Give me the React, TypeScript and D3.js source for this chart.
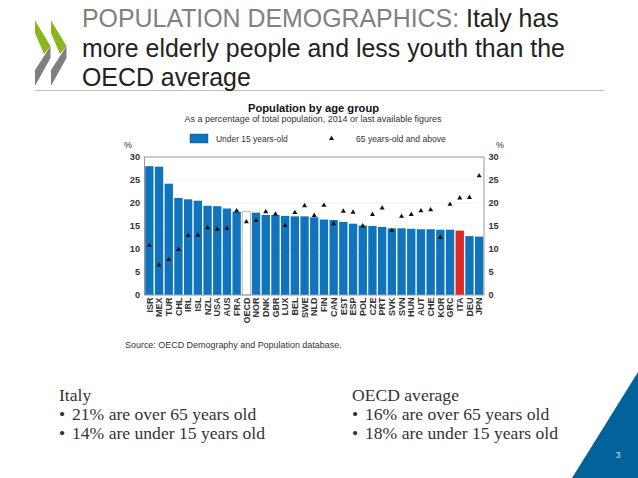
import React, { useEffect } from "react";
import * as d3 from "d3";

const countries = ["ISR","MEX","TUR","CHL","IRL","ISL","NZL","USA","AUS","FRA","OECD","NOR","DNK","GBR","LUX","BEL","SWE","NLD","FIN","CAN","EST","ESP","POL","CZE","PRT","SVK","SVN","HUN","AUT","CHE","KOR","GRC","ITA","DEU","JPN"];
const under15 = [28,27.9,24.2,21.1,20.8,20.5,19.4,19.3,18.8,18.1,18.1,17.9,17.4,17.4,17.2,17.1,17.1,16.9,16.4,16.3,15.9,15.5,15.1,15,14.8,14.5,14.5,14.4,14.3,14.3,14.2,14.2,14,12.8,12.7];
const over65 = [10.8,6.5,7.7,9.9,12.9,13,14.6,14.3,14.5,18.3,15.9,16.2,18.1,17.6,15.1,17.9,19.4,17.3,19.5,15.5,18.2,18,15,17.5,18.9,14,17.1,17.5,18.3,18.5,12.5,19.7,21.1,21.2,25.9];
const yTicks = [0,5,10,15,20,25,30];
const italyHeading = "Italy";
const italyBullets = ["21% are over 65 years old","14% are under 15 years old"];
const oecdHeading = "OECD average";
const oecdBullets = ["16% are over 65 years old","18% are under 15 years old"];

const sans = "'Liberation Sans', Arial, sans-serif";
const serif = "'Liberation Serif', serif";

function Block({ left, heading, bullets }: { left: number; heading: string; bullets: string[] }) {
  return (
    <g fontFamily={serif} fontSize={17.6} fill="#333">
      <text x={left} y={400.5}>{heading}</text>
      {bullets.map((l, i) => (
        <g key={l}>
          <text x={left} y={420 + i * 18.5}>•</text>
          <text x={left + 13} y={420 + i * 18.5}>{l}</text>
        </g>
      ))}
    </g>
  );
}

export default function App() {
  useEffect(() => { document.body.style.margin = "0"; }, []);
  const x = d3.scaleBand<string>().domain(countries).range([144.5, 484]).paddingInner(0.14).paddingOuter(0.07);
  const y = d3.scaleLinear().domain([0, 30]).range([295, 157]);
  const tri = d3.symbol().type(d3.symbolTriangle).size(11)() as string;
  const barFill = (c: string) => (c === "OECD" ? "#ffffff" : c === "ITA" ? "#df2a2a" : "#0f74bc");
  return (
    <svg width={638} height={478} style={{ display: "block", position: "absolute", left: 0, top: 0 }}>
      <rect width={638} height={478} fill="#fff" />
      {/* logo */}
      <path d="M35,20.5 L50.5,46 L44,54 L35,33Z" fill="#8ab51d" />
      <path d="M51,20.5 L66.5,46 L60,54 L51,33Z" fill="#8ab51d" />
      <path d="M50.5,46 L50.5,58 L35,86 L35,70Z" fill="#808080" />
      <path d="M66.5,46 L66.5,58 L51,86 L51,70Z" fill="#808080" />
      <line x1={35} x2={604} y1={90.5} y2={90.5} stroke="#bbbbbb" />
      {/* title */}
      <g fontFamily={sans} fontSize={24.9}>
        <text x={82} y={27} fill="#808080">POPULATION DEMOGRAPHICS: <tspan fill="#222">Italy has</tspan></text>
        <text x={82} y={56.5} fill="#222">more elderly people and less youth than the</text>
        <text x={82} y={86} fill="#222">OECD average</text>
      </g>
      {/* chart headings */}
      <text x={313.5} y={112} textAnchor="middle" fontFamily={sans} fontSize={11.2} fontWeight="bold" fill="#111">Population by age group</text>
      <text x={313} y={122} textAnchor="middle" fontFamily={sans} fontSize={8.95} fill="#333">As a percentage of total population, 2014 or last available figures</text>
      {/* legend */}
      <rect x={190} y={134} width={18} height={9} fill="#0f74bc" stroke="#333" strokeWidth={0.4} />
      <text x={216} y={142} fontFamily={sans} fontSize={8.45} fill="#333">Under 15 years-old</text>
      <path d={tri} transform="translate(331.5,138.5)" fill="#111" />
      <text x={356} y={142} fontFamily={sans} fontSize={8.6} fill="#333">65 years-old and above</text>
      <text x={128} y={148} textAnchor="middle" fontFamily={sans} fontSize={9} fill="#333">%</text>
      <text x={500} y={148} textAnchor="middle" fontFamily={sans} fontSize={9} fill="#333">%</text>
      {/* grid */}
      {yTicks.slice(1, -1).map((t) => (
        <line key={t} x1={144.5} x2={484} y1={y(t)} y2={y(t)} stroke="#eeeeee" strokeWidth={0.7} />
      ))}
      {/* bars */}
      {countries.map((c, i) => (
        <rect key={c} x={x(c)} y={y(under15[i])} width={x.bandwidth()} height={y(0) - y(under15[i])} fill={barFill(c)} stroke={c === "OECD" ? "#888" : "none"} strokeWidth={0.6} />
      ))}
      {/* frame */}
      <rect x={144.5} y={157} width={339.5} height={138} fill="none" stroke="#999" strokeWidth={1} />
      {/* markers */}
      {countries.map((c, i) => (
        <path key={c} d={tri} transform={`translate(${(x(c) as number) + x.bandwidth() / 2},${y(over65[i])})`} fill="#111" />
      ))}
      {/* y labels */}
      {yTicks.map((t) => (
        <g key={t} fontFamily={sans} fontSize={9.2} fontWeight="bold" fill="#333">
          <text x={140} y={y(t) + 3} textAnchor="end">{t}</text>
          <text x={488.5} y={y(t) + 3}>{t}</text>
        </g>
      ))}
      {/* x labels */}
      {countries.map((c) => (
        <text key={c} transform={`translate(${(x(c) as number) + x.bandwidth() / 2 + 3.2},297.5) rotate(-90)`} textAnchor="end" fontFamily={sans} fontSize={9} fontWeight="bold" fill="#333">{c}</text>
      ))}
      <text x={125} y={348} fontFamily={sans} fontSize={8.95} fill="#333">Source: OECD Demography and Population database.</text>
      {/* bottom text */}
      <Block left={59} heading={italyHeading} bullets={italyBullets} />
      <Block left={352} heading={oecdHeading} bullets={oecdBullets} />
      {/* corner */}
      <path d="M638,372 L638,478 L572,478Z" fill="#04629b" />
      <text x={618} y={458} textAnchor="middle" fontFamily={sans} fontSize={8.5} fill="#dfeaf3">3</text>
    </svg>
  );
}
